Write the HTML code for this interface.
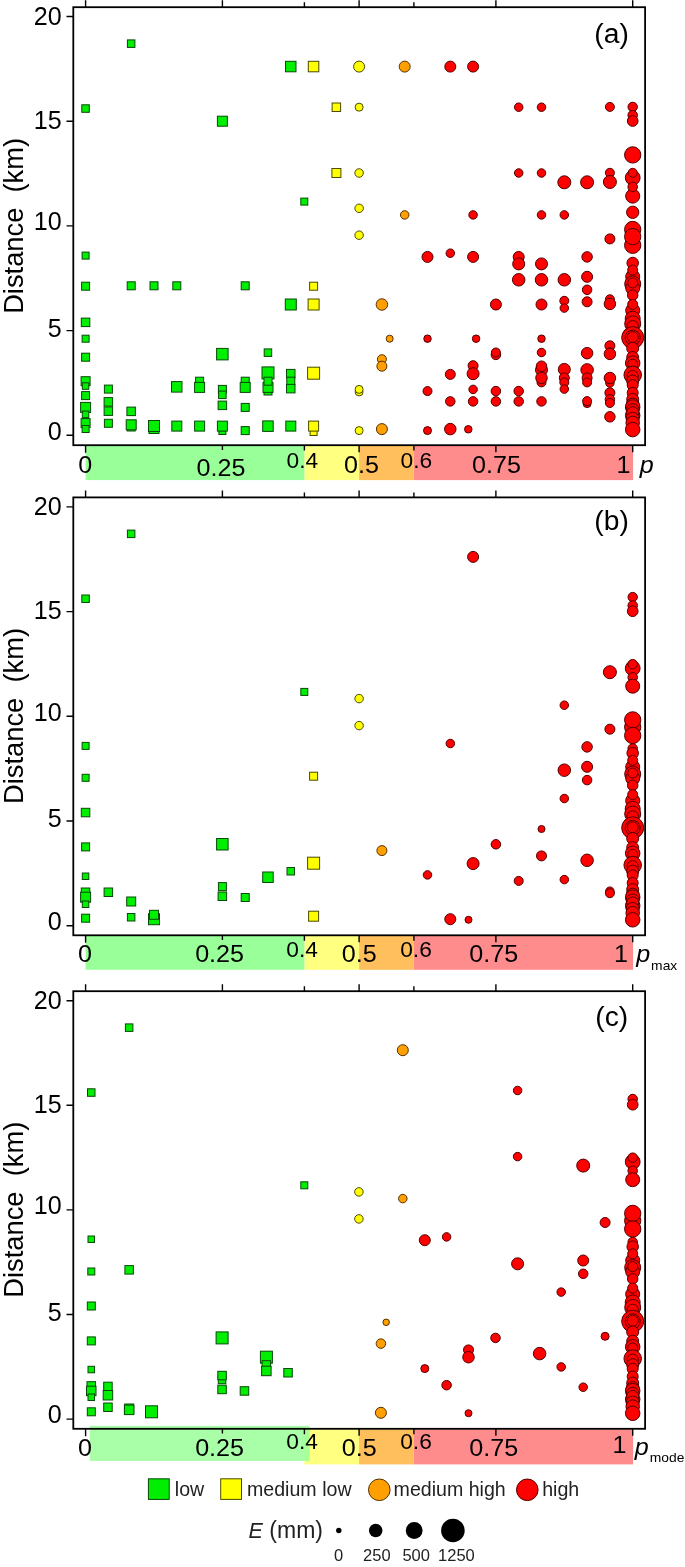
<!DOCTYPE html>
<html><head><meta charset="utf-8"><title>Distance vs p</title>
<style>
html,body{margin:0;padding:0;background:#fff}
svg{display:block}
text{font-family:"Liberation Sans",Arial,sans-serif;fill:#000}
.t{font-size:24.3px}
.m{font-size:22px}
.ty{font-size:25.1px}
.yl{font-size:27.3px}
.pl{font-size:27.3px}
.l{font-size:19.6px;fill:#222}
.sz{font-size:16.5px;fill:#222}
.G{fill:#00ee00;stroke:#084808;stroke-width:1}
.Y{fill:#ffff00;stroke:#4a4a00;stroke-width:1}
.O{fill:#ffa000;stroke:#553000;stroke-width:1}
.R{fill:#ff0000;stroke:#520000;stroke-width:1}
</style></head>
<body>
<svg width="685" height="1567" viewBox="0 0 685 1567">
<rect width="685" height="1567" fill="#fff"/>
<rect x="304.4" y="445.6" width="54.7" height="34.5" fill="#ffff80"/>
<rect x="85.6" y="445.6" width="218.8" height="34.5" fill="#99ff99"/>
<rect x="359.1" y="445.6" width="54.7" height="34.5" fill="#ffbf5c"/>
<rect x="413.9" y="445.6" width="219.2" height="34.5" fill="#ff8c8c"/>
<rect x="73.3" y="7.2" width="571.8" height="438.0" fill="none" stroke="#000" stroke-width="1.8"/>
<path d="M66.5 435.3H73.3M66.5 330.6H73.3M66.5 225.9H73.3M66.5 121.2H73.3M66.5 16.5H73.3M85.6 0.2V7.2M85.6 445.2V452.7M222.4 0.2V7.2M222.4 445.2V450.0M359.1 0.2V7.2M359.1 445.2V452.2M495.9 0.2V7.2M495.9 445.2V452.2M632.7 0.2V7.2M632.7 445.2V452.2M304.4 2.2V7.2M304.4 445.2V450.6M413.9 2.2V7.2M413.9 445.2V450.6" stroke="#000" stroke-width="1.4" fill="none"/>
<text class="ty" x="61.6" y="439.6" text-anchor="end">0</text>
<text class="ty" x="61.6" y="337.0" text-anchor="end">5</text>
<text class="ty" x="61.6" y="230.2" text-anchor="end">10</text>
<text class="ty" x="61.6" y="128.9" text-anchor="end">15</text>
<text class="ty" x="61.6" y="24.8" text-anchor="end">20</text>
<text class="t" transform="translate(85.3 473.0) scale(1.035 1)" text-anchor="middle">0</text>
<text class="t" transform="translate(221.0 475.9) scale(1.035 1)" text-anchor="middle">0.25</text>
<text class="m" transform="translate(302.3 467.8) scale(1.035 1)" text-anchor="middle">0.4</text>
<text class="t" transform="translate(361.4 473.0) scale(1.035 1)" text-anchor="middle">0.5</text>
<text class="m" transform="translate(416.3 467.8) scale(1.035 1)" text-anchor="middle">0.6</text>
<text class="t" transform="translate(496.4 473.0) scale(1.035 1)" text-anchor="middle">0.75</text>
<text class="t" transform="translate(630.6 472.9) scale(1.035 1)" text-anchor="end">1</text>
<text class="t" transform="translate(639.8 472.9) scale(1.035 1)" text-anchor="start" font-style="italic">p</text>
<text class="yl" transform="translate(23.3 225.9) rotate(-90)" text-anchor="middle" xml:space="preserve">Distance  (km)</text>
<text class="pl" transform="translate(628.8 43.4) scale(1.035 1)" text-anchor="end">(a)</text>
<rect class="G" x="81.8" y="104.8" width="7.5" height="7.5"/>
<rect class="G" x="82.1" y="252.1" width="7.0" height="7.0"/>
<rect class="G" x="81.6" y="282.2" width="8.0" height="8.0"/>
<rect class="G" x="81.3" y="318.1" width="8.5" height="8.5"/>
<rect class="G" x="82.1" y="335.2" width="7.0" height="7.0"/>
<rect class="G" x="81.6" y="353.2" width="8.0" height="8.0"/>
<rect class="G" x="81.1" y="376.7" width="9.0" height="9.0"/>
<rect class="G" x="82.3" y="382.8" width="6.5" height="6.5"/>
<rect class="G" x="81.6" y="391.6" width="8.0" height="8.0"/>
<rect class="G" x="80.6" y="402.4" width="10.0" height="10.0"/>
<rect class="G" x="82.3" y="411.1" width="6.5" height="6.5"/>
<rect class="G" x="81.1" y="418.6" width="9.0" height="9.0"/>
<rect class="G" x="82.1" y="425.5" width="7.0" height="7.0"/>
<rect class="G" x="104.4" y="385.1" width="8.0" height="8.0"/>
<rect class="G" x="104.1" y="397.6" width="8.5" height="8.5"/>
<rect class="G" x="104.1" y="406.9" width="8.5" height="8.5"/>
<rect class="G" x="104.4" y="419.3" width="8.0" height="8.0"/>
<rect class="G" x="127.4" y="39.9" width="7.5" height="7.5"/>
<rect class="G" x="127.2" y="281.8" width="8.0" height="8.0"/>
<rect class="G" x="126.9" y="407.1" width="8.5" height="8.5"/>
<rect class="G" x="127.2" y="423.0" width="8.0" height="8.0"/>
<rect class="G" x="126.2" y="419.8" width="10.0" height="10.0"/>
<rect class="G" x="150.0" y="281.8" width="8.0" height="8.0"/>
<rect class="G" x="149.0" y="423.5" width="10.0" height="10.0"/>
<rect class="G" x="148.5" y="420.5" width="11.0" height="11.0"/>
<rect class="G" x="172.8" y="281.8" width="8.0" height="8.0"/>
<rect class="G" x="171.5" y="381.6" width="10.5" height="10.5"/>
<rect class="G" x="171.8" y="421.1" width="10.0" height="10.0"/>
<rect class="G" x="195.6" y="377.2" width="8.0" height="8.0"/>
<rect class="G" x="194.6" y="382.4" width="10.0" height="10.0"/>
<rect class="G" x="194.6" y="421.1" width="10.0" height="10.0"/>
<rect class="G" x="217.4" y="116.2" width="10.0" height="10.0"/>
<rect class="G" x="216.6" y="348.4" width="11.5" height="11.5"/>
<rect class="G" x="218.4" y="385.4" width="8.0" height="8.0"/>
<rect class="G" x="218.6" y="391.1" width="7.5" height="7.5"/>
<rect class="G" x="218.1" y="401.1" width="8.5" height="8.5"/>
<rect class="G" x="218.9" y="427.5" width="7.0" height="7.0"/>
<rect class="G" x="217.4" y="421.1" width="10.0" height="10.0"/>
<rect class="G" x="241.2" y="281.8" width="8.0" height="8.0"/>
<rect class="G" x="241.2" y="377.2" width="8.0" height="8.0"/>
<rect class="G" x="240.2" y="382.4" width="10.0" height="10.0"/>
<rect class="G" x="241.2" y="403.4" width="8.0" height="8.0"/>
<rect class="G" x="241.2" y="426.6" width="8.0" height="8.0"/>
<rect class="G" x="264.2" y="348.9" width="7.5" height="7.5"/>
<rect class="G" x="262.0" y="366.9" width="12.0" height="12.0"/>
<rect class="G" x="264.0" y="387.0" width="8.0" height="8.0"/>
<rect class="G" x="263.0" y="382.4" width="10.0" height="10.0"/>
<rect class="G" x="264.0" y="377.2" width="8.0" height="8.0"/>
<rect class="G" x="262.7" y="420.9" width="10.5" height="10.5"/>
<rect class="G" x="285.5" y="61.3" width="10.5" height="10.5"/>
<rect class="G" x="285.3" y="299.0" width="11.0" height="11.0"/>
<rect class="G" x="286.5" y="369.4" width="8.5" height="8.5"/>
<rect class="G" x="286.8" y="377.2" width="8.0" height="8.0"/>
<rect class="G" x="286.5" y="384.4" width="8.5" height="8.5"/>
<rect class="G" x="285.8" y="421.1" width="10.0" height="10.0"/>
<rect class="G" x="300.8" y="198.1" width="7.0" height="7.0"/>
<rect class="Y" x="308.3" y="61.3" width="10.5" height="10.5"/>
<rect class="Y" x="309.6" y="282.2" width="8.0" height="8.0"/>
<rect class="Y" x="308.1" y="299.0" width="11.0" height="11.0"/>
<rect class="Y" x="307.6" y="367.2" width="12.0" height="12.0"/>
<rect class="Y" x="310.1" y="428.5" width="7.0" height="7.0"/>
<rect class="Y" x="308.6" y="421.1" width="10.0" height="10.0"/>
<rect class="Y" x="332.1" y="103.0" width="8.5" height="8.5"/>
<rect class="Y" x="331.9" y="168.5" width="9.0" height="9.0"/>
<circle class="Y" cx="359.1" cy="66.6" r="5.50"/>
<circle class="Y" cx="359.1" cy="107.2" r="4.00"/>
<circle class="Y" cx="359.1" cy="173.0" r="4.25"/>
<circle class="Y" cx="359.1" cy="208.3" r="4.25"/>
<circle class="Y" cx="359.1" cy="235.2" r="4.25"/>
<circle class="Y" cx="359.1" cy="391.9" r="4.00"/>
<circle class="Y" cx="359.1" cy="389.4" r="4.00"/>
<circle class="Y" cx="359.1" cy="430.6" r="4.00"/>
<circle class="O" cx="381.9" cy="304.5" r="5.75"/>
<circle class="O" cx="381.9" cy="359.2" r="4.50"/>
<circle class="O" cx="381.9" cy="366.2" r="5.00"/>
<circle class="O" cx="381.9" cy="429.1" r="5.50"/>
<circle class="O" cx="389.7" cy="338.7" r="3.50"/>
<circle class="O" cx="404.7" cy="66.6" r="5.50"/>
<circle class="O" cx="404.7" cy="214.9" r="4.25"/>
<circle class="R" cx="427.5" cy="256.9" r="5.50"/>
<circle class="R" cx="427.5" cy="338.7" r="3.75"/>
<circle class="R" cx="427.5" cy="391.1" r="4.50"/>
<circle class="R" cx="427.5" cy="430.6" r="4.00"/>
<circle class="R" cx="450.3" cy="66.6" r="5.50"/>
<circle class="R" cx="450.3" cy="253.2" r="4.25"/>
<circle class="R" cx="450.3" cy="374.4" r="5.00"/>
<circle class="R" cx="450.3" cy="401.4" r="4.75"/>
<circle class="R" cx="450.3" cy="429.1" r="5.75"/>
<circle class="R" cx="473.1" cy="66.6" r="5.50"/>
<circle class="R" cx="473.1" cy="214.9" r="4.25"/>
<circle class="R" cx="473.1" cy="256.9" r="5.50"/>
<circle class="R" cx="473.1" cy="365.7" r="5.00"/>
<circle class="R" cx="473.1" cy="373.7" r="6.00"/>
<circle class="R" cx="473.1" cy="389.4" r="4.25"/>
<circle class="R" cx="473.1" cy="401.4" r="4.75"/>
<circle class="R" cx="468.3" cy="429.3" r="3.75"/>
<circle class="R" cx="476.1" cy="338.7" r="3.75"/>
<circle class="R" cx="495.9" cy="304.5" r="5.50"/>
<circle class="R" cx="495.9" cy="354.9" r="4.75"/>
<circle class="R" cx="495.9" cy="352.5" r="4.50"/>
<circle class="R" cx="495.9" cy="391.1" r="4.75"/>
<circle class="R" cx="495.9" cy="401.4" r="4.75"/>
<circle class="R" cx="518.7" cy="107.2" r="4.25"/>
<circle class="R" cx="518.7" cy="173.0" r="4.25"/>
<circle class="R" cx="518.7" cy="256.9" r="5.50"/>
<circle class="R" cx="518.7" cy="263.9" r="6.00"/>
<circle class="R" cx="518.7" cy="279.8" r="6.25"/>
<circle class="R" cx="518.7" cy="391.1" r="4.75"/>
<circle class="R" cx="518.7" cy="401.4" r="4.75"/>
<circle class="R" cx="541.5" cy="107.2" r="4.25"/>
<circle class="R" cx="541.5" cy="173.0" r="4.25"/>
<circle class="R" cx="541.5" cy="214.9" r="4.25"/>
<circle class="R" cx="541.5" cy="263.9" r="6.00"/>
<circle class="R" cx="541.5" cy="279.8" r="6.25"/>
<circle class="R" cx="541.5" cy="304.5" r="5.50"/>
<circle class="R" cx="541.5" cy="338.7" r="3.75"/>
<circle class="R" cx="541.5" cy="352.5" r="4.25"/>
<circle class="R" cx="541.5" cy="382.4" r="4.50"/>
<circle class="R" cx="541.5" cy="369.9" r="6.00"/>
<circle class="R" cx="541.5" cy="366.2" r="5.25"/>
<circle class="R" cx="541.5" cy="377.9" r="5.75"/>
<circle class="R" cx="541.5" cy="401.4" r="4.75"/>
<circle class="R" cx="564.3" cy="182.3" r="6.50"/>
<circle class="R" cx="564.3" cy="214.9" r="4.25"/>
<circle class="R" cx="564.3" cy="279.8" r="6.25"/>
<circle class="R" cx="564.3" cy="300.8" r="4.50"/>
<circle class="R" cx="564.3" cy="308.1" r="4.25"/>
<circle class="R" cx="564.3" cy="369.4" r="6.00"/>
<circle class="R" cx="564.3" cy="377.9" r="5.00"/>
<circle class="R" cx="564.3" cy="382.4" r="4.50"/>
<circle class="R" cx="564.3" cy="389.1" r="4.25"/>
<circle class="R" cx="587.1" cy="182.3" r="6.50"/>
<circle class="R" cx="587.1" cy="256.9" r="5.25"/>
<circle class="R" cx="587.1" cy="276.8" r="5.50"/>
<circle class="R" cx="587.1" cy="289.8" r="4.75"/>
<circle class="R" cx="587.1" cy="301.8" r="5.00"/>
<circle class="R" cx="587.1" cy="353.2" r="5.75"/>
<circle class="R" cx="587.1" cy="369.9" r="6.25"/>
<circle class="R" cx="587.1" cy="377.9" r="5.00"/>
<circle class="R" cx="587.1" cy="382.4" r="4.50"/>
<circle class="R" cx="587.1" cy="403.6" r="4.00"/>
<circle class="R" cx="587.1" cy="401.1" r="4.50"/>
<circle class="R" cx="609.9" cy="106.9" r="4.50"/>
<circle class="R" cx="609.9" cy="172.8" r="4.50"/>
<circle class="R" cx="609.9" cy="182.0" r="6.50"/>
<circle class="R" cx="609.9" cy="238.9" r="5.00"/>
<circle class="R" cx="609.9" cy="299.3" r="4.50"/>
<circle class="R" cx="609.9" cy="303.9" r="5.75"/>
<circle class="R" cx="609.9" cy="345.8" r="5.00"/>
<circle class="R" cx="609.9" cy="352.4" r="4.50"/>
<circle class="R" cx="609.9" cy="353.9" r="5.75"/>
<circle class="R" cx="609.9" cy="383.0" r="4.25"/>
<circle class="R" cx="609.9" cy="378.0" r="5.75"/>
<circle class="R" cx="609.9" cy="392.8" r="5.00"/>
<circle class="R" cx="609.9" cy="399.4" r="4.75"/>
<circle class="R" cx="609.9" cy="403.0" r="4.50"/>
<circle class="R" cx="609.9" cy="416.8" r="5.25"/>
<circle class="R" cx="632.7" cy="106.9" r="4.70"/>
<circle class="R" cx="632.7" cy="115.2" r="4.75"/>
<circle class="R" cx="632.7" cy="121.0" r="5.35"/>
<circle class="R" cx="632.7" cy="154.9" r="8.15"/>
<circle class="R" cx="632.7" cy="177.7" r="7.40"/>
<circle class="R" cx="632.7" cy="172.8" r="4.50"/>
<circle class="R" cx="632.7" cy="196.1" r="7.05"/>
<circle class="R" cx="632.7" cy="186.9" r="4.75"/>
<circle class="R" cx="632.7" cy="212.3" r="6.15"/>
<circle class="R" cx="632.7" cy="229.5" r="8.15"/>
<circle class="R" cx="632.7" cy="245.3" r="8.15"/>
<circle class="R" cx="632.7" cy="236.6" r="8.15"/>
<circle class="R" cx="632.7" cy="263.0" r="5.75"/>
<circle class="R" cx="632.7" cy="276.8" r="7.00"/>
<circle class="R" cx="632.7" cy="270.1" r="5.00"/>
<circle class="R" cx="632.7" cy="283.9" r="8.00"/>
<circle class="R" cx="632.7" cy="288.0" r="7.00"/>
<circle class="R" cx="632.7" cy="282.9" r="5.00"/>
<circle class="R" cx="632.7" cy="295.2" r="5.25"/>
<circle class="R" cx="632.7" cy="310.5" r="7.00"/>
<circle class="R" cx="632.7" cy="304.4" r="5.00"/>
<circle class="R" cx="632.7" cy="318.7" r="7.50"/>
<circle class="R" cx="632.7" cy="323.8" r="8.00"/>
<circle class="R" cx="632.7" cy="326.3" r="5.75"/>
<circle class="R" cx="632.7" cy="337.6" r="11.00"/>
<circle class="R" cx="632.7" cy="337.6" r="7.50"/>
<circle class="R" cx="632.7" cy="337.1" r="5.50"/>
<circle class="R" cx="632.7" cy="348.3" r="6.00"/>
<circle class="R" cx="632.7" cy="357.5" r="6.00"/>
<circle class="R" cx="632.7" cy="363.1" r="7.25"/>
<circle class="R" cx="632.7" cy="364.2" r="5.00"/>
<circle class="R" cx="632.7" cy="374.9" r="8.75"/>
<circle class="R" cx="632.7" cy="375.9" r="5.50"/>
<circle class="R" cx="632.7" cy="381.0" r="6.00"/>
<circle class="R" cx="632.7" cy="385.1" r="5.50"/>
<circle class="R" cx="632.7" cy="392.8" r="5.50"/>
<circle class="R" cx="632.7" cy="399.4" r="6.00"/>
<circle class="R" cx="632.7" cy="404.5" r="6.50"/>
<circle class="R" cx="632.7" cy="407.0" r="7.25"/>
<circle class="R" cx="632.7" cy="410.2" r="6.50"/>
<circle class="R" cx="632.7" cy="415.5" r="7.25"/>
<circle class="R" cx="632.7" cy="412.7" r="6.00"/>
<circle class="R" cx="632.7" cy="418.8" r="6.50"/>
<circle class="R" cx="632.7" cy="422.9" r="6.75"/>
<circle class="R" cx="632.7" cy="429.6" r="7.25"/>
<rect x="304.4" y="935.5" width="54.7" height="34.3" fill="#ffff80"/>
<rect x="85.6" y="935.5" width="218.8" height="34.3" fill="#99ff99"/>
<rect x="359.1" y="935.5" width="54.7" height="34.3" fill="#ffbf5c"/>
<rect x="413.9" y="935.5" width="219.2" height="34.3" fill="#ff8c8c"/>
<rect x="73.3" y="497.4" width="571.8" height="437.9" fill="none" stroke="#000" stroke-width="1.8"/>
<path d="M66.5 925.7H73.3M66.5 821.0H73.3M66.5 716.3H73.3M66.5 611.6H73.3M66.5 506.9H73.3M85.6 490.4V497.4M85.6 935.3V942.8M222.4 490.4V497.4M222.4 935.3V940.1M359.1 490.4V497.4M359.1 935.3V942.3M495.9 490.4V497.4M495.9 935.3V942.3M632.7 490.4V497.4M632.7 935.3V942.3M304.4 492.4V497.4M304.4 935.3V940.7M413.9 492.4V497.4M413.9 935.3V940.7" stroke="#000" stroke-width="1.4" fill="none"/>
<text class="ty" x="61.6" y="930.0" text-anchor="end">0</text>
<text class="ty" x="61.6" y="827.4" text-anchor="end">5</text>
<text class="ty" x="61.6" y="720.6" text-anchor="end">10</text>
<text class="ty" x="61.6" y="619.3" text-anchor="end">15</text>
<text class="ty" x="61.6" y="515.1" text-anchor="end">20</text>
<text class="t" transform="translate(84.9 962.4) scale(1.035 1)" text-anchor="middle">0</text>
<text class="t" transform="translate(219.6 962.4) scale(1.035 1)" text-anchor="middle">0.25</text>
<text class="m" transform="translate(302.1 956.7) scale(1.035 1)" text-anchor="middle">0.4</text>
<text class="t" transform="translate(359.2 962.4) scale(1.035 1)" text-anchor="middle">0.5</text>
<text class="m" transform="translate(416.0 956.7) scale(1.035 1)" text-anchor="middle">0.6</text>
<text class="t" transform="translate(493.8 962.4) scale(1.035 1)" text-anchor="middle">0.75</text>
<text class="t" transform="translate(628.0 961.9) scale(1.035 1)" text-anchor="end">1</text>
<text class="t" transform="translate(636.2 962.4) scale(1.035 1)" text-anchor="start" font-style="italic">p<tspan font-style="normal" font-size="13.4" dy="7.6" dx="0.9">max</tspan></text>
<text class="yl" transform="translate(23.3 716.0) rotate(-90)" text-anchor="middle" xml:space="preserve">Distance  (km)</text>
<text class="pl" transform="translate(628.8 530.2) scale(1.035 1)" text-anchor="end">(b)</text>
<rect class="G" x="81.8" y="595.0" width="7.5" height="7.5"/>
<rect class="G" x="82.1" y="742.4" width="7.0" height="7.0"/>
<rect class="G" x="82.1" y="774.3" width="7.0" height="7.0"/>
<rect class="G" x="81.3" y="808.3" width="8.5" height="8.5"/>
<rect class="G" x="81.6" y="842.9" width="8.0" height="8.0"/>
<rect class="G" x="82.3" y="873.0" width="6.5" height="6.5"/>
<rect class="G" x="81.3" y="888.0" width="8.5" height="8.5"/>
<rect class="G" x="80.6" y="892.2" width="10.0" height="10.0"/>
<rect class="G" x="82.3" y="901.0" width="6.5" height="6.5"/>
<rect class="G" x="81.6" y="914.2" width="8.0" height="8.0"/>
<rect class="G" x="104.1" y="888.0" width="8.5" height="8.5"/>
<rect class="G" x="127.4" y="530.1" width="7.5" height="7.5"/>
<rect class="G" x="126.7" y="897.0" width="9.0" height="9.0"/>
<rect class="G" x="127.4" y="913.5" width="7.5" height="7.5"/>
<rect class="G" x="148.5" y="913.7" width="11.0" height="11.0"/>
<rect class="G" x="149.5" y="910.3" width="9.0" height="9.0"/>
<rect class="G" x="216.6" y="838.5" width="11.5" height="11.5"/>
<rect class="G" x="218.4" y="882.6" width="8.0" height="8.0"/>
<rect class="G" x="218.1" y="892.0" width="8.5" height="8.5"/>
<rect class="G" x="241.2" y="893.5" width="8.0" height="8.0"/>
<rect class="G" x="262.7" y="872.0" width="10.5" height="10.5"/>
<rect class="G" x="287.0" y="867.5" width="7.5" height="7.5"/>
<rect class="G" x="300.8" y="688.4" width="7.0" height="7.0"/>
<rect class="Y" x="309.6" y="772.2" width="8.0" height="8.0"/>
<rect class="Y" x="307.6" y="857.2" width="12.0" height="12.0"/>
<rect class="Y" x="308.6" y="911.2" width="10.0" height="10.0"/>
<circle class="Y" cx="359.1" cy="698.6" r="4.25"/>
<circle class="Y" cx="359.1" cy="725.6" r="4.25"/>
<circle class="O" cx="381.9" cy="850.6" r="5.00"/>
<circle class="R" cx="427.5" cy="874.9" r="4.25"/>
<circle class="R" cx="450.3" cy="743.5" r="4.25"/>
<circle class="R" cx="450.3" cy="919.2" r="5.50"/>
<circle class="R" cx="468.5" cy="919.8" r="3.50"/>
<circle class="R" cx="473.1" cy="556.9" r="5.50"/>
<circle class="R" cx="473.1" cy="863.6" r="6.00"/>
<circle class="R" cx="495.9" cy="844.3" r="4.75"/>
<circle class="R" cx="518.7" cy="880.9" r="4.50"/>
<circle class="R" cx="541.5" cy="829.0" r="3.50"/>
<circle class="R" cx="541.5" cy="855.9" r="5.00"/>
<circle class="R" cx="564.3" cy="705.2" r="4.25"/>
<circle class="R" cx="564.3" cy="770.2" r="6.25"/>
<circle class="R" cx="564.3" cy="798.5" r="4.25"/>
<circle class="R" cx="564.3" cy="879.6" r="4.25"/>
<circle class="R" cx="587.1" cy="746.9" r="5.25"/>
<circle class="R" cx="587.1" cy="766.8" r="5.50"/>
<circle class="R" cx="587.1" cy="780.1" r="4.75"/>
<circle class="R" cx="587.1" cy="860.3" r="6.25"/>
<circle class="R" cx="609.9" cy="672.2" r="6.50"/>
<circle class="R" cx="609.9" cy="729.2" r="5.00"/>
<circle class="R" cx="609.9" cy="891.2" r="4.25"/>
<circle class="R" cx="609.9" cy="893.2" r="4.50"/>
<circle class="R" cx="632.7" cy="597.1" r="4.70"/>
<circle class="R" cx="632.7" cy="605.5" r="4.75"/>
<circle class="R" cx="632.7" cy="611.2" r="5.35"/>
<circle class="R" cx="632.7" cy="668.3" r="7.40"/>
<circle class="R" cx="632.7" cy="664.2" r="4.75"/>
<circle class="R" cx="632.7" cy="677.3" r="4.75"/>
<circle class="R" cx="632.7" cy="686.2" r="7.00"/>
<circle class="R" cx="632.7" cy="727.1" r="8.15"/>
<circle class="R" cx="632.7" cy="719.9" r="8.15"/>
<circle class="R" cx="632.7" cy="735.5" r="8.15"/>
<circle class="R" cx="632.7" cy="748.5" r="4.75"/>
<circle class="R" cx="632.7" cy="753.2" r="5.75"/>
<circle class="R" cx="632.7" cy="767.0" r="7.00"/>
<circle class="R" cx="632.7" cy="760.3" r="5.00"/>
<circle class="R" cx="632.7" cy="774.1" r="8.00"/>
<circle class="R" cx="632.7" cy="778.2" r="7.00"/>
<circle class="R" cx="632.7" cy="773.1" r="5.00"/>
<circle class="R" cx="632.7" cy="785.4" r="5.25"/>
<circle class="R" cx="632.7" cy="800.7" r="7.00"/>
<circle class="R" cx="632.7" cy="794.6" r="5.00"/>
<circle class="R" cx="632.7" cy="808.9" r="7.50"/>
<circle class="R" cx="632.7" cy="814.0" r="8.00"/>
<circle class="R" cx="632.7" cy="816.5" r="5.75"/>
<circle class="R" cx="632.7" cy="827.8" r="11.00"/>
<circle class="R" cx="632.7" cy="827.8" r="7.50"/>
<circle class="R" cx="632.7" cy="827.3" r="5.50"/>
<circle class="R" cx="632.7" cy="838.5" r="6.00"/>
<circle class="R" cx="632.7" cy="847.7" r="6.00"/>
<circle class="R" cx="632.7" cy="853.3" r="7.25"/>
<circle class="R" cx="632.7" cy="854.4" r="5.00"/>
<circle class="R" cx="632.7" cy="865.1" r="8.75"/>
<circle class="R" cx="632.7" cy="866.1" r="5.50"/>
<circle class="R" cx="632.7" cy="871.2" r="6.00"/>
<circle class="R" cx="632.7" cy="875.3" r="5.50"/>
<circle class="R" cx="632.7" cy="883.0" r="5.50"/>
<circle class="R" cx="632.7" cy="889.6" r="6.00"/>
<circle class="R" cx="632.7" cy="894.7" r="6.50"/>
<circle class="R" cx="632.7" cy="897.2" r="7.25"/>
<circle class="R" cx="632.7" cy="900.4" r="6.50"/>
<circle class="R" cx="632.7" cy="905.7" r="7.25"/>
<circle class="R" cx="632.7" cy="902.9" r="6.00"/>
<circle class="R" cx="632.7" cy="909.0" r="6.50"/>
<circle class="R" cx="632.7" cy="913.1" r="6.75"/>
<circle class="R" cx="632.7" cy="919.8" r="7.25"/>
<rect x="304.4" y="1429.3" width="54.7" height="35.1" fill="#ffff80"/>
<rect x="89.8" y="1425.8" width="219.8" height="35.1" fill="#99ff99" fill-opacity="0.85"/>
<rect x="359.1" y="1429.3" width="54.7" height="35.1" fill="#ffbf5c"/>
<rect x="413.9" y="1429.3" width="219.2" height="35.1" fill="#ff8c8c"/>
<rect x="73.3" y="991.2" width="571.8" height="437.6" fill="none" stroke="#000" stroke-width="1.8"/>
<path d="M66.5 1419.1H73.3M66.5 1314.5H73.3M66.5 1209.9H73.3M66.5 1105.3H73.3M66.5 1000.7H73.3M85.6 984.2V991.2M85.6 1428.8V1436.3M222.4 984.2V991.2M222.4 1428.8V1433.6M359.1 984.2V991.2M359.1 1428.8V1435.8M495.9 984.2V991.2M495.9 1428.8V1435.8M632.7 984.2V991.2M632.7 1428.8V1435.8M304.4 986.2V991.2M304.4 1428.8V1434.2M413.9 986.2V991.2M413.9 1428.8V1434.2" stroke="#000" stroke-width="1.4" fill="none"/>
<text class="ty" x="61.6" y="1423.3" text-anchor="end">0</text>
<text class="ty" x="61.6" y="1320.8" text-anchor="end">5</text>
<text class="ty" x="61.6" y="1214.2" text-anchor="end">10</text>
<text class="ty" x="61.6" y="1113.0" text-anchor="end">15</text>
<text class="ty" x="61.6" y="1008.9" text-anchor="end">20</text>
<text class="t" transform="translate(84.9 1456.4) scale(1.035 1)" text-anchor="middle">0</text>
<text class="t" transform="translate(219.6 1456.4) scale(1.035 1)" text-anchor="middle">0.25</text>
<text class="m" transform="translate(302.1 1449.2) scale(1.035 1)" text-anchor="middle">0.4</text>
<text class="t" transform="translate(359.2 1456.4) scale(1.035 1)" text-anchor="middle">0.5</text>
<text class="m" transform="translate(416.0 1449.2) scale(1.035 1)" text-anchor="middle">0.6</text>
<text class="t" transform="translate(493.8 1456.4) scale(1.035 1)" text-anchor="middle">0.75</text>
<text class="t" transform="translate(626.5 1453.0) scale(1.035 1)" text-anchor="end">1</text>
<text class="t" transform="translate(634.8 1455.2) scale(1.035 1)" text-anchor="start" font-style="italic">p<tspan font-style="normal" font-size="13.4" dy="7.2" dx="0.9">mode</tspan></text>
<text class="yl" transform="translate(23.3 1209.7) rotate(-90)" text-anchor="middle" xml:space="preserve">Distance  (km)</text>
<text class="pl" transform="translate(628.2 1025.7) scale(1.035 1)" text-anchor="end">(c)</text>
<rect class="G" x="87.5" y="1088.8" width="7.5" height="7.5"/>
<rect class="G" x="88.0" y="1236.0" width="6.5" height="6.5"/>
<rect class="G" x="87.8" y="1268.0" width="7.0" height="7.0"/>
<rect class="G" x="87.3" y="1302.0" width="8.0" height="8.0"/>
<rect class="G" x="87.3" y="1336.9" width="8.0" height="8.0"/>
<rect class="G" x="88.0" y="1366.3" width="6.5" height="6.5"/>
<rect class="G" x="87.0" y="1381.7" width="8.5" height="8.5"/>
<rect class="G" x="86.5" y="1386.2" width="9.5" height="9.5"/>
<rect class="G" x="88.0" y="1394.0" width="6.5" height="6.5"/>
<rect class="G" x="87.3" y="1407.8" width="8.0" height="8.0"/>
<rect class="G" x="125.4" y="1023.9" width="7.5" height="7.5"/>
<rect class="G" x="124.9" y="1265.6" width="8.5" height="8.5"/>
<rect class="G" x="124.7" y="1404.0" width="9.0" height="9.0"/>
<rect class="G" x="124.4" y="1405.1" width="9.5" height="9.5"/>
<rect class="G" x="103.7" y="1382.2" width="8.5" height="8.5"/>
<rect class="G" x="103.2" y="1390.5" width="9.5" height="9.5"/>
<rect class="G" x="103.7" y="1403.0" width="8.5" height="8.5"/>
<rect class="G" x="145.5" y="1405.8" width="12.0" height="12.0"/>
<rect class="G" x="216.1" y="1331.9" width="12.0" height="12.0"/>
<rect class="G" x="218.3" y="1376.2" width="7.5" height="7.5"/>
<rect class="G" x="217.8" y="1371.3" width="8.5" height="8.5"/>
<rect class="G" x="217.8" y="1385.2" width="8.5" height="8.5"/>
<rect class="G" x="240.2" y="1386.7" width="8.5" height="8.5"/>
<rect class="G" x="260.4" y="1351.2" width="12.0" height="12.0"/>
<rect class="G" x="262.1" y="1360.7" width="8.5" height="8.5"/>
<rect class="G" x="261.6" y="1366.2" width="9.5" height="9.5"/>
<rect class="G" x="283.8" y="1368.5" width="8.5" height="8.5"/>
<rect class="G" x="300.8" y="1181.8" width="7.0" height="7.0"/>
<circle class="Y" cx="358.9" cy="1191.9" r="4.25"/>
<circle class="Y" cx="358.9" cy="1218.9" r="4.25"/>
<circle class="O" cx="402.8" cy="1050.2" r="5.50"/>
<circle class="O" cx="402.8" cy="1198.6" r="4.25"/>
<circle class="O" cx="386.2" cy="1322.3" r="3.25"/>
<circle class="O" cx="380.9" cy="1343.6" r="4.75"/>
<circle class="O" cx="380.9" cy="1412.8" r="5.50"/>
<circle class="R" cx="424.8" cy="1240.2" r="5.50"/>
<circle class="R" cx="424.8" cy="1368.6" r="4.00"/>
<circle class="R" cx="446.6" cy="1236.9" r="4.25"/>
<circle class="R" cx="446.6" cy="1385.2" r="4.75"/>
<circle class="R" cx="468.5" cy="1349.9" r="5.00"/>
<circle class="R" cx="468.5" cy="1357.2" r="5.75"/>
<circle class="R" cx="468.5" cy="1413.2" r="3.50"/>
<circle class="R" cx="495.5" cy="1337.9" r="4.75"/>
<circle class="R" cx="517.6" cy="1090.5" r="4.25"/>
<circle class="R" cx="517.6" cy="1156.6" r="4.25"/>
<circle class="R" cx="517.6" cy="1263.8" r="6.00"/>
<circle class="R" cx="539.6" cy="1353.6" r="6.25"/>
<circle class="R" cx="561.2" cy="1292.1" r="4.25"/>
<circle class="R" cx="561.2" cy="1366.9" r="4.25"/>
<circle class="R" cx="583.2" cy="1165.6" r="6.50"/>
<circle class="R" cx="583.2" cy="1260.5" r="5.50"/>
<circle class="R" cx="583.2" cy="1273.8" r="4.75"/>
<circle class="R" cx="583.2" cy="1387.2" r="4.25"/>
<circle class="R" cx="605.1" cy="1222.5" r="5.00"/>
<circle class="R" cx="605.1" cy="1336.3" r="4.00"/>
<circle class="R" cx="632.7" cy="1099.0" r="4.75"/>
<circle class="R" cx="632.7" cy="1104.7" r="5.35"/>
<circle class="R" cx="632.7" cy="1161.8" r="7.40"/>
<circle class="R" cx="632.7" cy="1157.7" r="4.75"/>
<circle class="R" cx="632.7" cy="1170.8" r="4.75"/>
<circle class="R" cx="632.7" cy="1179.7" r="7.00"/>
<circle class="R" cx="632.7" cy="1220.6" r="8.15"/>
<circle class="R" cx="632.7" cy="1213.4" r="8.15"/>
<circle class="R" cx="632.7" cy="1229.0" r="8.15"/>
<circle class="R" cx="632.7" cy="1242.0" r="4.75"/>
<circle class="R" cx="632.7" cy="1246.7" r="5.75"/>
<circle class="R" cx="632.7" cy="1260.5" r="7.00"/>
<circle class="R" cx="632.7" cy="1253.8" r="5.00"/>
<circle class="R" cx="632.7" cy="1267.6" r="8.00"/>
<circle class="R" cx="632.7" cy="1271.7" r="7.00"/>
<circle class="R" cx="632.7" cy="1266.6" r="5.00"/>
<circle class="R" cx="632.7" cy="1278.9" r="5.25"/>
<circle class="R" cx="632.7" cy="1294.2" r="7.00"/>
<circle class="R" cx="632.7" cy="1288.1" r="5.00"/>
<circle class="R" cx="632.7" cy="1302.4" r="7.50"/>
<circle class="R" cx="632.7" cy="1307.5" r="8.00"/>
<circle class="R" cx="632.7" cy="1310.0" r="5.75"/>
<circle class="R" cx="632.7" cy="1321.3" r="11.00"/>
<circle class="R" cx="632.7" cy="1321.3" r="7.50"/>
<circle class="R" cx="632.7" cy="1320.8" r="5.50"/>
<circle class="R" cx="632.7" cy="1332.0" r="6.00"/>
<circle class="R" cx="632.7" cy="1341.2" r="6.00"/>
<circle class="R" cx="632.7" cy="1346.8" r="7.25"/>
<circle class="R" cx="632.7" cy="1347.9" r="5.00"/>
<circle class="R" cx="632.7" cy="1358.6" r="8.75"/>
<circle class="R" cx="632.7" cy="1359.6" r="5.50"/>
<circle class="R" cx="632.7" cy="1364.7" r="6.00"/>
<circle class="R" cx="632.7" cy="1368.8" r="5.50"/>
<circle class="R" cx="632.7" cy="1376.5" r="5.50"/>
<circle class="R" cx="632.7" cy="1383.1" r="6.00"/>
<circle class="R" cx="632.7" cy="1388.2" r="6.50"/>
<circle class="R" cx="632.7" cy="1390.7" r="7.25"/>
<circle class="R" cx="632.7" cy="1393.9" r="6.50"/>
<circle class="R" cx="632.7" cy="1399.2" r="7.25"/>
<circle class="R" cx="632.7" cy="1396.4" r="6.00"/>
<circle class="R" cx="632.7" cy="1402.5" r="6.50"/>
<circle class="R" cx="632.7" cy="1406.6" r="6.75"/>
<circle class="R" cx="632.7" cy="1413.3" r="7.25"/>
<rect class="G" x="148.4" y="1478.8" width="20.8" height="20.6"/>
<text class="l" x="174.8" y="1496.1">low</text>
<rect class="Y" x="220.7" y="1478.8" width="20.8" height="20.6"/>
<text class="l" x="247" y="1496.1">medium low</text>
<circle class="O" cx="379.3" cy="1489.8" r="10.8"/>
<text class="l" x="393.6" y="1496.1">medium high</text>
<circle class="R" cx="527.3" cy="1489.8" r="10.8"/>
<text class="l" x="542.2" y="1496.1">high</text>
<text class="l" x="248.6" y="1537.7"><tspan font-style="italic" font-size="21.5">E</tspan><tspan font-size="23"> (mm)</tspan></text>
<circle cx="338.8" cy="1530.5" r="2.7" fill="#000"/>
<circle cx="375.7" cy="1530.5" r="6.75" fill="#000"/>
<circle cx="414.2" cy="1530.5" r="8.4" fill="#000"/>
<circle cx="452.9" cy="1530.5" r="11.8" fill="#000"/>
<text class="sz" x="338.7" y="1561.4" text-anchor="middle">0</text>
<text class="sz" x="376.8" y="1561.4" text-anchor="middle">250</text>
<text class="sz" x="416.2" y="1561.4" text-anchor="middle">500</text>
<text class="sz" x="456.4" y="1561.4" text-anchor="middle">1250</text>
</svg>
</body></html>
